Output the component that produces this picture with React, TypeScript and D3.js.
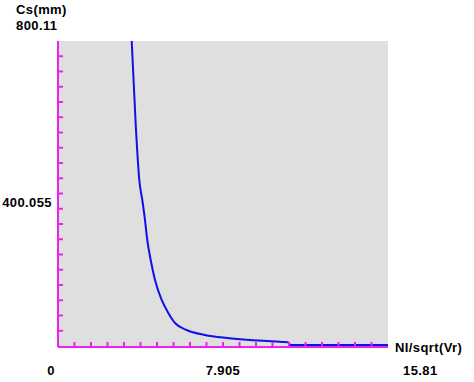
import React from "react";
import * as d3 from "d3";

const xMax = 15.81;
const yMax = 800.11;
const yLabel = "Cs(mm)";
const xLabel = "NI/sqrt(Vr)";
const xTickLabels = ["0", "7.905", "15.81"];
const yTickLabels = ["800.11", "400.055"];
const tickCount = 20;

const curveX = [3.45, 3.531, 3.737, 3.895, 4.039, 4.168, 4.278, 4.441, 4.647, 4.968, 5.284, 5.605, 6.166, 7.04, 8.1, 9.2, 10.2, 10.78, 11.05, 11.12, 13.0, 15.81];
const curveY = [880, 800, 566.6, 435.5, 383, 330.5, 278, 225.6, 173, 120.7, 86.6, 60.3, 42, 28.9, 21, 15.7, 12.5, 10.5, 9.5, 2.6, 2.6, 2.6];

export default function App() {
  const W = 474, H = 382;
  const left = 58, right = 388, top = 41, bottom = 346;
  const x = d3.scaleLinear().domain([0, xMax]).range([left, right]);
  const y = d3.scaleLinear().domain([0, yMax]).range([bottom, top]);
  const pts: [number, number][] = curveX.map((v, i) => [v, curveY[i]]);
  const line = d3.line<[number, number]>().x(d => x(d[0])).y(d => y(d[1])).curve(d3.curveMonotoneX);
  const magenta = "#ee22ee";
  const font = "'Liberation Sans', Arial, sans-serif";
  const yTicks = d3.range(1, tickCount).map(i => (yMax * i) / tickCount);
  const xTicks = d3.range(1, tickCount).map(i => (xMax * i) / tickCount);
  return (
    <svg width={W} height={H} style={{ position: "fixed", left: 0, top: 0, background: "#fff" }}>
      <defs>
        <clipPath id="plotclip">
          <rect x={left} y={top} width={right - left} height={bottom - top + 2} />
        </clipPath>
      </defs>
      <rect x={left} y={top} width={right - left} height={bottom - top} fill="#dfdfdf" />
      <line x1={left} y1={top} x2={left} y2={bottom + 1} stroke={magenta} strokeWidth={2} />
      <line x1={left} y1={bottom + 1} x2={right} y2={bottom + 1} stroke={magenta} strokeWidth={2} />
      <path d={line(pts) || ""} fill="none" stroke="#1010e8" strokeWidth={2} clipPath="url(#plotclip)" />
      {yTicks.map((v, i) => (
        <line key={"yt" + i} x1={left} x2={left + 5} y1={y(v)} y2={y(v)} stroke={magenta} strokeWidth={2} />
      ))}
      {xTicks.map((v, i) => (
        <line key={"xt" + i} x1={x(v)} x2={x(v)} y1={bottom - 4} y2={bottom} stroke={magenta} strokeWidth={2} />
      ))}
      <g fontFamily={font} fontWeight="bold" fontSize={13} letterSpacing={0.4} fill="#000">
        <text x={16} y={14}>{yLabel}</text>
        <text x={16} y={30}>{yTickLabels[0]}</text>
        <text x={left - 6} y={y(yMax / 2) + 13} textAnchor="end">{yTickLabels[1]}</text>
        <text x={x(0) - 3} y={375} textAnchor="end">{xTickLabels[0]}</text>
        <text x={x(xMax / 2)} y={375} textAnchor="middle">{xTickLabels[1]}</text>
        <text x={x(xMax) + 15} y={375}>{xTickLabels[2]}</text>
        <text x={right + 7} y={352}>{xLabel}</text>
      </g>
    </svg>
  );
}
